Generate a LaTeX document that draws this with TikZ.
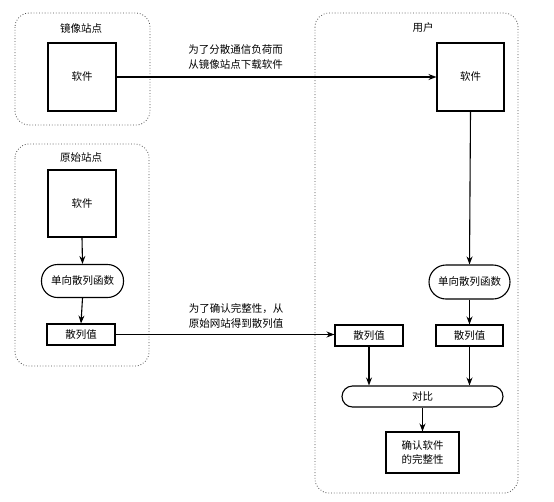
\documentclass[tikz,border=0pt]{standalone}
\usepackage{fontspec}
\newfontfamily\cjk{Noto Sans CJK SC}
\usetikzlibrary{arrows.meta}
\begin{document}
\begin{tikzpicture}[x=1pt,y=-1pt,
  every node/.style={font=\cjk\fontsize{10.5}{14}\selectfont, align=center, inner sep=0pt},
  container/.style={draw=black!70, dotted, line width=0.8pt, rounded corners=14pt},
  box/.style={draw, line width=1.1pt, rectangle},
  pill/.style={draw, line width=1.1pt, rectangle, rounded corners=#1},
  conn/.style={line width=1.1pt, -{Stealth[length=8pt,width=6pt]}},
  lbl/.style={font=\cjk\fontsize{10.5}{15}\selectfont}
]
\useasboundingbox (0,0) rectangle (554,501);
% containers
\draw[container] (15,13) rectangle (150,125);
\draw[container] (15,144) rectangle (149,366);
\draw[container] (315,13) rectangle (518,493);
\node (tmirror) at (81,28) {镜像站点};
\node (torig) at (81,158) {原始站点};
\node (tuser) at (423,28) {用户};
% nodes
\node[box, minimum width=68pt, minimum height=68pt] (msoft) at (82,77) {软件};
\node[box, minimum width=67pt, minimum height=68pt] (usoft) at (470.5,77) {软件};
\node[box, minimum width=68pt, minimum height=67pt] (osoft) at (82,203.5) {软件};
\node[pill=16pt, minimum width=82pt, minimum height=33pt] (ohash) at (82.5,281) {单向散列函数};
\node[box, minimum width=68pt, minimum height=21pt] (ohv) at (81,334.5) {散列值};
\node[pill=17pt, minimum width=81pt, minimum height=34pt] (uhash) at (469.5,282) {单向散列函数};
\node[box, minimum width=67pt, minimum height=21pt] (uhv2) at (469.5,335.5) {散列值};
\node[box, minimum width=68pt, minimum height=21pt] (uhv1) at (369,335.5) {散列值};
\node[pill=10.5pt, minimum width=161pt, minimum height=21pt] (cmp) at (422.5,396.5) {对比};
\node[box, minimum width=73pt, minimum height=41pt] (conf) at (422.5,452.5) {确认软件\\的完整性};
% labels
\node[lbl] (l1) at (235.5,57.5) {为了分散通信负荷而\\从镜像站点下载软件};
\node[lbl] (l2) at (236,315.5) {为了确认完整性，从\\原始网站得到散列值};
% connectors
\draw[conn] (msoft.east) -- (usoft.west);
\draw[conn] (usoft.south) -- (uhash.north);
\draw[conn] (osoft.south) -- (ohash.north);
\draw[conn] (ohash.south) -- (ohv.north);
\draw[conn] (ohv.east) -- (uhv1.west |- ohv.east);
\draw[conn] (uhash.south) -- (uhv2.north);
\draw[conn] (uhv1.south) -- (uhv1.south |- cmp.north);
\draw[conn] (uhv2.south) -- (uhv2.south |- cmp.north);
\draw[conn] (cmp.south) -- (conf.north);
\end{tikzpicture}
\end{document}
